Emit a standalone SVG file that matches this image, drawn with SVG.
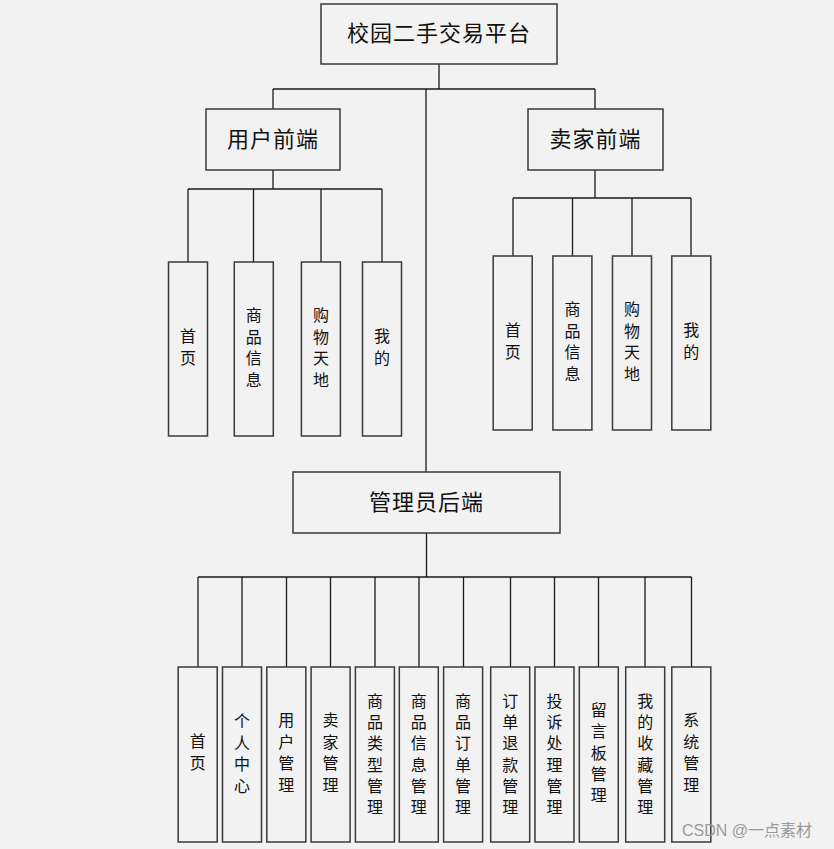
<svg xmlns="http://www.w3.org/2000/svg" width="834" height="849" viewBox="0 0 834 849">
<style>
.bg{fill:#f2f2f2}
.box{fill:#f2f2f2;stroke:#3a3a3a;stroke-width:1.5}
.ln{stroke:#1a1a1a;stroke-width:1.3;fill:none}
.t{font-family:"Liberation Sans","Noto Sans CJK SC",sans-serif;fill:#111;text-anchor:middle}
.big{font-size:22px;letter-spacing:1px}
.sm{font-size:16px}
.wm{font-family:"Liberation Sans","Noto Sans CJK SC",sans-serif;font-size:16px;fill:#9a9a9a}
</style>
<rect class="bg" x="0" y="0" width="834" height="849"/>
<g id="connectors">
<path class="ln" d="M439 64V89M273 89H595M273 89V109M595 89V109M426 89V472"/>
<path class="ln" d="M273 170V189M188 189H382M188 189V262M253.5 189V262M321 189V262M382 189V262"/>
<path class="ln" d="M595 170V198M513 198H691M513 198V256M572.5 198V256M632 198V256M691 198V256"/>
<path class="ln" d="M426.5 533V577M198 577H691.5M198 577V667M242 577V667M286.5 577V667M330.5 577V667M375 577V667M419 577V667M463.5 577V667M510.5 577V667M554.5 577V667M598.5 577V667M645 577V667M691.5 577V667"/>
</g>
<g id="root"><rect class="box" x="321" y="4" width="236" height="60"/><text class="t big" x="439" y="41">校园二手交易平台</text></g>
<g id="user-front"><rect class="box" x="206" y="109" width="134" height="61"/><text class="t big" x="273" y="147">用户前端</text></g>
<g id="seller-front"><rect class="box" x="528" y="109" width="135" height="61"/><text class="t big" x="595.5" y="147">卖家前端</text></g>
<g id="admin"><rect class="box" x="293" y="472" width="267" height="61"/><text class="t big" x="426.5" y="510">管理员后端</text></g>

<g id="u1"><rect class="box" x="168.5" y="262" width="39" height="174"/><text class="t sm" x="188" y="342">首<tspan x="188" dy="21.5">页</tspan></text></g>
<g id="u2"><rect class="box" x="234.3" y="262" width="39" height="174"/><text class="t sm" x="253.8" y="321">商<tspan x="253.8" dy="21.5">品</tspan><tspan x="253.8" dy="21.5">信</tspan><tspan x="253.8" dy="21.5">息</tspan></text></g>
<g id="u3"><rect class="box" x="301.4" y="262" width="39" height="174"/><text class="t sm" x="320.9" y="321">购<tspan x="320.9" dy="21.5">物</tspan><tspan x="320.9" dy="21.5">天</tspan><tspan x="320.9" dy="21.5">地</tspan></text></g>
<g id="u4"><rect class="box" x="362.5" y="262" width="39" height="174"/><text class="t sm" x="382" y="342">我<tspan x="382" dy="21.5">的</tspan></text></g>

<g id="s1"><rect class="box" x="493.2" y="256" width="39" height="174"/><text class="t sm" x="512.7" y="336">首<tspan x="512.7" dy="21.5">页</tspan></text></g>
<g id="s2"><rect class="box" x="552.9" y="256" width="39" height="174"/><text class="t sm" x="572.4" y="315">商<tspan x="572.4" dy="21.5">品</tspan><tspan x="572.4" dy="21.5">信</tspan><tspan x="572.4" dy="21.5">息</tspan></text></g>
<g id="s3"><rect class="box" x="612.5" y="256" width="39" height="174"/><text class="t sm" x="632" y="315">购<tspan x="632" dy="21.5">物</tspan><tspan x="632" dy="21.5">天</tspan><tspan x="632" dy="21.5">地</tspan></text></g>
<g id="s4"><rect class="box" x="671.8" y="256" width="39" height="174"/><text class="t sm" x="691.3" y="336">我<tspan x="691.3" dy="21.5">的</tspan></text></g>

<g id="a1"><rect class="box" x="178.2" y="667" width="39" height="175"/><text class="t sm" x="197.7" y="747">首<tspan x="197.7" dy="21.5">页</tspan></text></g>
<g id="a2"><rect class="box" x="222.5" y="667" width="39" height="175"/><text class="t sm" x="242" y="727">个<tspan x="242" dy="21.5">人</tspan><tspan x="242" dy="21.5">中</tspan><tspan x="242" dy="21.5">心</tspan></text></g>
<g id="a3"><rect class="box" x="266.8" y="667" width="39" height="175"/><text class="t sm" x="286.3" y="726">用<tspan x="286.3" dy="21.5">户</tspan><tspan x="286.3" dy="21.5">管</tspan><tspan x="286.3" dy="21.5">理</tspan></text></g>
<g id="a4"><rect class="box" x="311.1" y="667" width="39" height="175"/><text class="t sm" x="330.6" y="726">卖<tspan x="330.6" dy="21.5">家</tspan><tspan x="330.6" dy="21.5">管</tspan><tspan x="330.6" dy="21.5">理</tspan></text></g>
<g id="a5"><rect class="box" x="355.4" y="667" width="39" height="175"/><text class="t sm" x="374.9" y="707">商<tspan x="374.9" dy="21.2">品</tspan><tspan x="374.9" dy="21.2">类</tspan><tspan x="374.9" dy="21.2">型</tspan><tspan x="374.9" dy="21.2">管</tspan><tspan x="374.9" dy="21.2">理</tspan></text></g>
<g id="a6"><rect class="box" x="399.3" y="667" width="39" height="175"/><text class="t sm" x="418.8" y="707">商<tspan x="418.8" dy="21.2">品</tspan><tspan x="418.8" dy="21.2">信</tspan><tspan x="418.8" dy="21.2">息</tspan><tspan x="418.8" dy="21.2">管</tspan><tspan x="418.8" dy="21.2">理</tspan></text></g>
<g id="a7"><rect class="box" x="443.6" y="667" width="39" height="175"/><text class="t sm" x="463.1" y="707">商<tspan x="463.1" dy="21.2">品</tspan><tspan x="463.1" dy="21.2">订</tspan><tspan x="463.1" dy="21.2">单</tspan><tspan x="463.1" dy="21.2">管</tspan><tspan x="463.1" dy="21.2">理</tspan></text></g>
<g id="a8"><rect class="box" x="490.7" y="667" width="39" height="175"/><text class="t sm" x="510.2" y="707">订<tspan x="510.2" dy="21.2">单</tspan><tspan x="510.2" dy="21.2">退</tspan><tspan x="510.2" dy="21.2">款</tspan><tspan x="510.2" dy="21.2">管</tspan><tspan x="510.2" dy="21.2">理</tspan></text></g>
<g id="a9"><rect class="box" x="535" y="667" width="39" height="175"/><text class="t sm" x="554.5" y="707">投<tspan x="554.5" dy="21.2">诉</tspan><tspan x="554.5" dy="21.2">处</tspan><tspan x="554.5" dy="21.2">理</tspan><tspan x="554.5" dy="21.2">管</tspan><tspan x="554.5" dy="21.2">理</tspan></text></g>
<g id="a10"><rect class="box" x="579.3" y="667" width="39" height="175"/><text class="t sm" x="598.8" y="716">留<tspan x="598.8" dy="21.3">言</tspan><tspan x="598.8" dy="21.3">板</tspan><tspan x="598.8" dy="21.3">管</tspan><tspan x="598.8" dy="21.3">理</tspan></text></g>
<g id="a11"><rect class="box" x="625.7" y="667" width="39" height="175"/><text class="t sm" x="645.2" y="707">我<tspan x="645.2" dy="21.2">的</tspan><tspan x="645.2" dy="21.2">收</tspan><tspan x="645.2" dy="21.2">藏</tspan><tspan x="645.2" dy="21.2">管</tspan><tspan x="645.2" dy="21.2">理</tspan></text></g>
<g id="a12"><rect class="box" x="671.8" y="667" width="39" height="175"/><text class="t sm" x="691.3" y="726">系<tspan x="691.3" dy="21.5">统</tspan><tspan x="691.3" dy="21.5">管</tspan><tspan x="691.3" dy="21.5">理</tspan></text></g>
<text class="wm" x="682" y="836">CSDN @一点素材</text>
</svg>
